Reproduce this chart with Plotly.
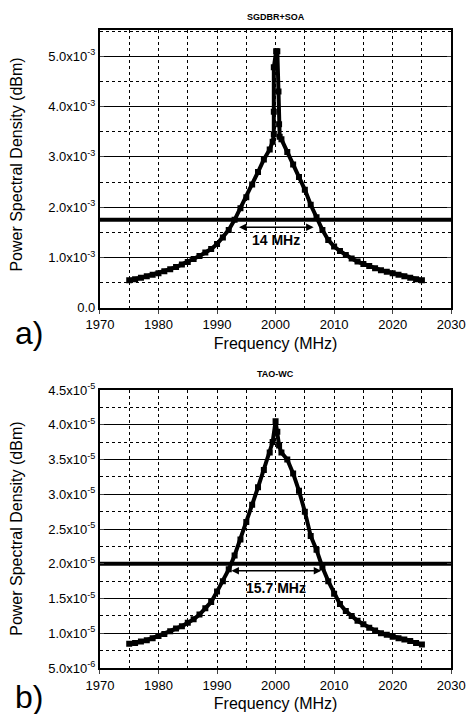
import plotly.graph_objects as go

# Panel a) SGDBR+SOA (y in units of 1e-3)
freq_a = [1975,1976,1977,1978,1979,1980,1981,1982,1983,1984,1985,1986,1987,1988,1989,1990,1991,1992,1993,1994,1995,1996,1997,1998,1999,1999.5,1999.7,1999.7,1999.7,2000.1,2000.3,2000.5,2000.6,2000.7,2001,2002,2003,2004,2005,2006,2007,2008,2009,2010,2011,2012,2013,2014,2015,2016,2017,2018,2019,2020,2021,2022,2023,2024,2025]
psd_a = [0.55,0.57,0.60,0.63,0.66,0.69,0.73,0.77,0.81,0.86,0.91,0.97,1.03,1.10,1.17,1.27,1.40,1.55,1.75,1.98,2.20,2.45,2.70,2.95,3.15,3.30,3.45,3.90,4.78,5.10,5.10,4.30,3.65,3.40,3.35,3.10,2.85,2.60,2.35,2.05,1.80,1.55,1.35,1.22,1.13,1.05,0.98,0.92,0.87,0.83,0.79,0.75,0.72,0.69,0.66,0.63,0.60,0.57,0.55]
half_a = 1.75
# Panel b) TAO-WC (y in units of 1e-5)
freq_b = [1975,1976,1977,1978,1979,1980,1981,1982,1983,1984,1985,1986,1987,1988,1989,1990,1991,1992,1993,1994,1995,1996,1997,1998,1999,1999.5,2000,2000.3,2000.6,2001,2002,2003,2004,2005,2006,2007,2008,2009,2010,2011,2012,2013,2014,2015,2016,2017,2018,2019,2020,2021,2022,2023,2024,2025]
psd_b = [0.85,0.86,0.88,0.90,0.93,0.96,0.99,1.03,1.07,1.10,1.15,1.20,1.27,1.36,1.45,1.60,1.75,1.92,2.12,2.35,2.60,2.85,3.10,3.35,3.60,3.75,4.05,3.90,3.70,3.60,3.50,3.30,3.05,2.75,2.40,2.20,1.95,1.75,1.57,1.42,1.32,1.25,1.18,1.13,1.08,1.04,1.00,0.98,0.95,0.93,0.91,0.89,0.86,0.84]
half_b = 2.0

ya = [v*1e-3 for v in psd_a]
yb = [v*1e-5 for v in psd_b]

font = "Liberation Sans, Arial, sans-serif"
fig = go.Figure()
for x, y, xa, yax in [(freq_a, ya, 'x', 'y'), (freq_b, yb, 'x2', 'y2')]:
    fig.add_trace(go.Scatter(x=x, y=y, xaxis=xa, yaxis=yax, mode='lines+markers',
                             line=dict(color='black', width=4),
                             marker=dict(symbol='square', size=6, color='black'),
                             showlegend=False))
fig.add_trace(go.Scatter(x=[1970, 2030], y=[half_a*1e-3]*2, mode='lines', line=dict(color='black', width=4), showlegend=False))
fig.add_trace(go.Scatter(x=[1970, 2030], y=[half_b*1e-5]*2, xaxis='x2', yaxis='y2', mode='lines', line=dict(color='black', width=4), showlegend=False))

xdom = [0.194, 0.935]
xt = dict(range=[1970, 2030], tickvals=list(range(1970, 2031, 10)), showgrid=False, automargin=False,
          minor=dict(tickvals=list(range(1975, 2030, 5)), showgrid=True, gridcolor='black', griddash='dot', gridwidth=1, ticks=''),
          showline=True, linecolor='black', linewidth=2, mirror=True, ticks='outside', ticklen=4,
          tickfont=dict(size=13, family=font, color='black'), zeroline=False,
          title=dict(text='Frequency (MHz)', font=dict(size=16, family=font, color='black'), standoff=6))
ya_vals = [i*1e-3 for i in range(0, 6)]
ya_text = ['0.0'] + [f'{i}.0x10<sup>-3</sup>' for i in range(1, 6)]
yb_vals = [ (5+5*i)*1e-6 for i in range(0, 9)]
yb_text = ['5.0x10<sup>-6</sup>'] + [f'{(10+5*i)/10:.1f}x10<sup>-5</sup>' for i in range(0, 8)]
yt = dict(showline=True, linecolor='black', linewidth=2, mirror='ticks', ticks='inside', ticklen=4, automargin=False,
          showgrid=True, gridcolor='black', gridwidth=1, zeroline=False,
          tickfont=dict(size=13, family=font, color='black'))
fig.update_layout(
    width=474, height=714, margin=dict(l=0, r=0, t=0, b=0),
    plot_bgcolor='white', paper_bgcolor='white',
    xaxis=dict(xt, domain=xdom, anchor='y'),
    yaxis=dict(yt, domain=[0.580, 0.969], range=[0, 5.52e-3], tickvals=ya_vals, ticktext=ya_text,
               minor=dict(tickvals=[(i+0.5)*1e-3 for i in range(6)], showgrid=True, gridcolor='black', griddash='dot', ticks='')),
    xaxis2=dict(xt, domain=xdom, anchor='y2'),
    yaxis2=dict(yt, domain=[0.0756, 0.465], range=[5e-6, 4.5e-5], tickvals=yb_vals, ticktext=yb_text,
                minor=dict(tickvals=[(7.5+5*i)*1e-6 for i in range(8)], showgrid=True, gridcolor='black', griddash='dot', ticks='')),
    annotations=[
        dict(text='Power Spectral Density (dBm)', x=0.018, y=0.78, xref='paper', yref='paper', xanchor='center', yanchor='middle', textangle=-90, showarrow=False, font=dict(size=16, family=font, color='black')),
        dict(text='Power Spectral Density (dBm)', x=0.018, y=0.27, xref='paper', yref='paper', xanchor='center', yanchor='middle', textangle=-90, showarrow=False, font=dict(size=16, family=font, color='black')),
        dict(text='<b>SGDBR+SOA</b>', x=0.565, y=0.997, xref='paper', yref='paper', showarrow=False, font=dict(size=9, family=font, color='black')),
        dict(text='<b>TAO-WC</b>', x=0.565, y=0.488, xref='paper', yref='paper', showarrow=False, font=dict(size=9, family=font, color='black')),
        dict(text='a)', x=0.01, y=0.545, xref='paper', yref='paper', xanchor='left', yanchor='middle', showarrow=False, font=dict(size=32, family=font, color='black')),
        dict(text='b)', x=0.01, y=0.035, xref='paper', yref='paper', xanchor='left', yanchor='middle', showarrow=False, font=dict(size=32, family=font, color='black')),
        dict(text='<b>14 MHz</b>', x=2000, y=1.35e-3, xref='x', yref='y', showarrow=False, font=dict(size=14, family=font, color='black')),
        dict(text='<b>15.7 MHz</b>', x=2000, y=1.65e-5, xref='x2', yref='y2', showarrow=False, font=dict(size=14, family=font, color='black')),
        dict(x=2006.5, y=1.6e-3, ax=1993.5, ay=1.6e-3, xref='x', yref='y', axref='x', ayref='y', text='', showarrow=True,
             arrowhead=2, arrowside='end+start', arrowwidth=1.5, arrowsize=1, arrowcolor='black'),
        dict(x=2007.8, y=1.9e-5, ax=1992.2, ay=1.9e-5, xref='x2', yref='y2', axref='x2', ayref='y2', text='', showarrow=True,
             arrowhead=2, arrowside='end+start', arrowwidth=1.5, arrowsize=1, arrowcolor='black'),
    ])
fig.write_html('out.html')
